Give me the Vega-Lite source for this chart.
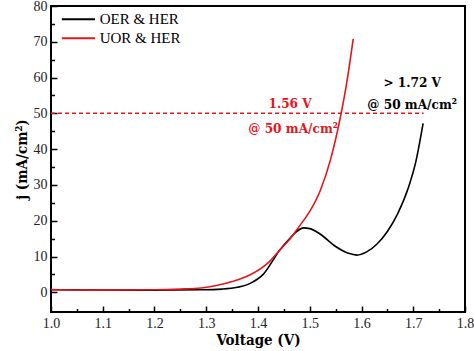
{
  "$schema": "https://vega.github.io/schema/vega-lite/v6.json",
  "width": 414,
  "height": 306,
  "autosize": {"type": "none"},
  "padding": {"left": 51, "top": 6, "right": 9, "bottom": 39},
  "config": {
    "font": "Liberation Serif",
    "view": {"stroke": "black", "strokeWidth": 2},
    "axis": {"domain": false, "grid": false, "labelOverlap": false, "labelFont": "Liberation Serif", "labelFontSize": 14, "labelColor": "#222", "tickColor": "black", "tickWidth": 1.5, "titleFont": "DejaVu Serif Condensed", "titleFontSize": 15, "titleFontWeight": "bold", "titleColor": "black"}
  },
  "datasets": {
    "curves": [
      {"v": 1.0, "j": 0.7, "s": "OER & HER"},
      {"v": 1.1, "j": 0.6, "s": "OER & HER"},
      {"v": 1.2, "j": 0.6, "s": "OER & HER"},
      {"v": 1.29, "j": 0.7, "s": "OER & HER"},
      {"v": 1.33, "j": 0.9, "s": "OER & HER"},
      {"v": 1.36, "j": 1.4, "s": "OER & HER"},
      {"v": 1.385, "j": 2.5, "s": "OER & HER"},
      {"v": 1.41, "j": 5.0, "s": "OER & HER"},
      {"v": 1.4425, "j": 11.9, "s": "OER & HER"},
      {"v": 1.46, "j": 14.8, "s": "OER & HER"},
      {"v": 1.475, "j": 17.0, "s": "OER & HER"},
      {"v": 1.488, "j": 18.0, "s": "OER & HER"},
      {"v": 1.50, "j": 17.8, "s": "OER & HER"},
      {"v": 1.52, "j": 16.3, "s": "OER & HER"},
      {"v": 1.55, "j": 12.8, "s": "OER & HER"},
      {"v": 1.575, "j": 10.9, "s": "OER & HER"},
      {"v": 1.591, "j": 10.4, "s": "OER & HER"},
      {"v": 1.61, "j": 11.3, "s": "OER & HER"},
      {"v": 1.63, "j": 13.5, "s": "OER & HER"},
      {"v": 1.65, "j": 17.0, "s": "OER & HER"},
      {"v": 1.67, "j": 22.0, "s": "OER & HER"},
      {"v": 1.69, "j": 29.0, "s": "OER & HER"},
      {"v": 1.705, "j": 36.5, "s": "OER & HER"},
      {"v": 1.719, "j": 47.2, "s": "OER & HER"},
      {"v": 1.0, "j": 0.8, "s": "UOR & HER"},
      {"v": 1.1, "j": 0.6, "s": "UOR & HER"},
      {"v": 1.2, "j": 0.7, "s": "UOR & HER"},
      {"v": 1.25, "j": 0.9, "s": "UOR & HER"},
      {"v": 1.29, "j": 1.2, "s": "UOR & HER"},
      {"v": 1.32, "j": 1.9, "s": "UOR & HER"},
      {"v": 1.35, "j": 3.0, "s": "UOR & HER"},
      {"v": 1.385, "j": 4.9, "s": "UOR & HER"},
      {"v": 1.42, "j": 8.3, "s": "UOR & HER"},
      {"v": 1.4425, "j": 11.9, "s": "UOR & HER"},
      {"v": 1.46, "j": 14.6, "s": "UOR & HER"},
      {"v": 1.48, "j": 18.5, "s": "UOR & HER"},
      {"v": 1.50, "j": 22.6, "s": "UOR & HER"},
      {"v": 1.52, "j": 28.3, "s": "UOR & HER"},
      {"v": 1.54, "j": 37.0, "s": "UOR & HER"},
      {"v": 1.56, "j": 49.5, "s": "UOR & HER"},
      {"v": 1.572, "j": 59.0, "s": "UOR & HER"},
      {"v": 1.584, "j": 70.8, "s": "UOR & HER"}
    ],
    "labels": [
      {"v": 1.462, "j": 52.5, "t": "1.56 V", "c": "#e3161c"},
      {"v": 1.468, "j": 45.6, "t": "@ 50 mA/cm²", "c": "#e3161c"},
      {"v": 1.698, "j": 58.6, "t": "> 1.72 V", "c": "black"},
      {"v": 1.698, "j": 52.4, "t": "@ 50 mA/cm²", "c": "black"}
    ],
    "legend": [
      {"v": 1.021, "v2": 1.085, "vt": 1.094, "j": 76.3, "s": "OER & HER"},
      {"v": 1.021, "v2": 1.085, "vt": 1.094, "j": 71.0, "s": "UOR & HER"}
    ]
  },
  "encoding": {
    "x": {
      "field": "v", "type": "quantitative",
      "scale": {"domain": [1.0, 1.8], "nice": false, "zero": false},
      "axis": {
        "title": "Voltage (V)",
        "values": [1.0,1.05,1.1,1.15,1.2,1.25,1.3,1.35,1.4,1.45,1.5,1.55,1.6,1.65,1.7,1.75,1.8],
        "labelExpr": "round(datum.value*100) % 10 == 0 ? format(datum.value, '.1f') : ''",
        "tickSize": {"condition": {"test": "round(datum.value*100) % 10 == 0", "value": -6}, "value": -3.5},
        "labelPadding": 10,
        "titlePadding": 0,
        "labelFlush": false,
        "labelOverlap": false
      }
    },
    "y": {
      "field": "j", "type": "quantitative",
      "scale": {"domain": [-5.5, 80], "nice": false, "zero": false},
      "axis": {
        "title": "j (mA/cm²)",
        "values": [0,5,10,15,20,25,30,35,40,45,50,55,60,65,70,75,80],
        "labelExpr": "round(datum.value) % 10 == 0 ? format(datum.value, 'd') : ''",
        "tickSize": {"condition": {"test": "round(datum.value) % 10 == 0", "value": -6}, "value": -3.5},
        "labelPadding": 10,
        "titlePadding": 4,
        "labelFlush": false,
        "labelOverlap": false
      }
    },
    "color": {
      "field": "s", "type": "nominal",
      "scale": {"domain": ["OER & HER", "UOR & HER"], "range": ["black", "#e3161c"]},
      "legend": null
    }
  },
  "layer": [
    {
      "data": {"values": [{"v": 1.0, "v2": 1.72, "j": 50}]},
      "mark": {"type": "rule", "color": "#e3161c", "strokeWidth": 1.5, "strokeDash": [4, 3]},
      "encoding": {
        "x2": {"field": "v2"},
        "color": {"value": "#e3161c"}
      }
    },
    {
      "data": {"name": "curves"},
      "mark": {"type": "line", "interpolate": "monotone", "strokeWidth": 1.6}
    },
    {
      "data": {"name": "legend"},
      "mark": {"type": "rule", "strokeWidth": 2},
      "encoding": {
        "x2": {"field": "v2"}
      }
    },
    {
      "data": {"name": "legend"},
      "mark": {"type": "text", "align": "left", "baseline": "middle", "fontSize": 15, "font": "Liberation Serif", "color": "black"},
      "encoding": {
        "x": {"field": "vt", "type": "quantitative"},
        "text": {"field": "s"},
        "color": {"value": "black"}
      }
    },
    {
      "data": {"name": "labels"},
      "mark": {"type": "text", "fontWeight": "bold", "fontSize": 13.5, "font": "DejaVu Serif Condensed"},
      "encoding": {
        "text": {"field": "t"},
        "color": {"field": "c", "type": "nominal", "scale": null}
      }
    }
  ]
}
